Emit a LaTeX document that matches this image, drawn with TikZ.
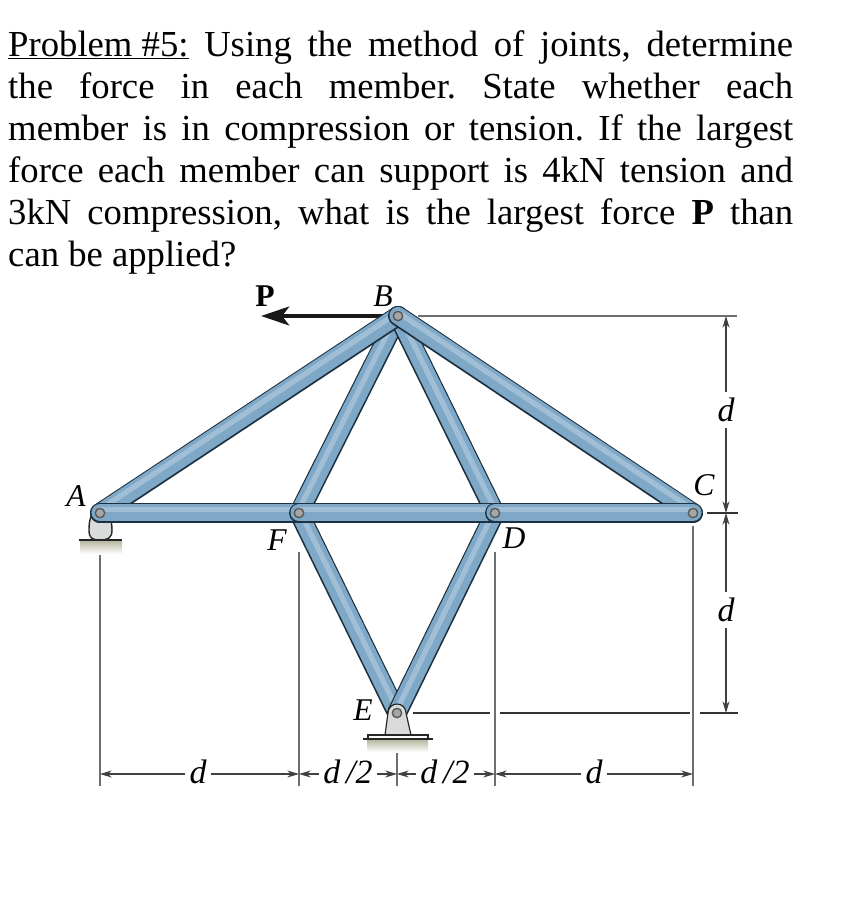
\documentclass[tikz,border=0pt]{standalone}
\usepackage{fontspec}
\setmainfont{Liberation Serif}
\usetikzlibrary{arrows.meta, calc, positioning}
\definecolor{barline}{HTML}{1B3040}
\definecolor{barblue}{HTML}{7FA8C7}
\definecolor{barlight}{HTML}{A0BFD7}
\definecolor{dimgray}{HTML}{6E6E6E}
\definecolor{plategray}{HTML}{DADBDB}
\definecolor{shadowgray}{HTML}{B9B8A0}
\tikzset{
    x = 0.03cm, y = -0.03cm,
    problem/.style = {anchor=north west, inner sep=0, text width=670pt, align=justify,
                      font=\fontsize{31.3}{35.85}\selectfont\frenchspacing},
    label/.style = {inner sep=0, font=\fontsize{27}{27}\selectfont\itshape},
    dimlabel/.style = {inner xsep=4pt, inner ysep=5pt, font=\fontsize{29}{29}\selectfont\itshape},
    dimline/.style = {draw=dimgray, line width=0.9pt},
    dimhalf/.style = {dimline, draw=black!75, -{Stealth[length=10pt,width=6pt]}},
    force/.style = {draw=black!90, line width=3.8pt, -{Stealth[length=24pt,width=16pt,inset=6pt]}},
    pin/.style = {circle, draw=black!65, fill=black!35, line width=1.2pt, minimum size=8pt, inner sep=0},
    plate/.style = {draw=black!85, line width=1.2pt, fill=plategray}
}
% one bar between two joints: outline, body and highlight
\newcommand{\member}[3]{
    \draw[barline, line width=#3pt, line cap=round] (#1) -- (#2);
    \draw[barblue, line width=#3pt-2.4pt, line cap=round, transform canvas={yshift=0.4pt}] (#1) -- (#2);
    \draw[barlight, line width=#3pt-12.5pt, line cap=round, transform canvas={yshift=3pt}] (#1) -- (#2);
}

\begin{document}
\begin{tikzpicture}
    \useasboundingbox (0,0) rectangle (850,901);

    \node[problem] (text) at (8,30) {\underline{Problem \#5:} Using the method of joints, determine\linebreak
        the force in each member. State whether each\linebreak
        member is in compression or tension. If the largest\linebreak
        force each member can support is 4kN tension and\linebreak
        3kN compression, what is the largest force \textbf{P} than\linebreak
        can be applied?};

    \coordinate (A) at (100,513);
    \coordinate (B) at (398,316);
    \coordinate (C) at (693,513);
    \coordinate (D) at (495,513);
    \coordinate (E) at (397,713);
    \coordinate (F) at (299,513);

    % dimension lines
    \coordinate (a1) at (100,553);
    \coordinate (a2) at (100,786);
    \coordinate (f1) at (299,552);
    \coordinate (f2) at (299,786);
    \coordinate (e1) at (397,746);
    \coordinate (e2) at (397,786);
    \coordinate (d1) at (495,552);
    \coordinate (d2) at (495,786);
    \coordinate (c1) at (693,526);
    \coordinate (c2) at (693,786);
    \draw[dimline] (a1) -- (a2);
    \draw[dimline] (f1) -- (f2);
    \draw[dimline] (e1) -- (e2);
    \draw[dimline] (d1) -- (d2);
    \draw[dimline] (c1) -- (c2);

    \coordinate (t1) at (418,316);
    \coordinate (t2) at (737,316);
    \coordinate (m1) at (707,513);
    \coordinate (m2) at (738,513);
    \coordinate (b1) at (413,713);
    \coordinate (b2) at (490,713);
    \coordinate (b3) at (500,713);
    \coordinate (b4) at (690,713);
    \coordinate (b5) at (700,713);
    \coordinate (b6) at (738,713);
    \draw[dimline] (t1) -- (t2);
    \draw[dimline, draw=black!80] (m1) -- (m2);
    \draw[dimline, draw=black!80] (b1) -- (b2);
    \draw[dimline, draw=black!80] (b3) -- (b4);
    \draw[dimline, draw=black!80] (b5) -- (b6);

    \node[dimlabel] (h1) at (198,772) {d};
    \node[dimlabel] (h2) at (348,772) {d\,/2};
    \node[dimlabel] (h3) at (445,772) {d\,/2};
    \node[dimlabel] (h4) at (594,772) {d};
    \coordinate (y1) at (100,774);
    \coordinate (y2) at (299,774);
    \coordinate (y3) at (397,774);
    \coordinate (y4) at (495,774);
    \coordinate (y5) at (693,774);
    \draw[dimhalf] (h1.west |- y1) -- (y1);
    \draw[dimhalf] (h1.east |- y1) -- (y2);
    \draw[dimhalf] (h2.west |- y1) -- (y2);
    \draw[dimhalf] (h2.east |- y1) -- (y3);
    \draw[dimhalf] (h3.west |- y1) -- (y3);
    \draw[dimhalf] (h3.east |- y1) -- (y4);
    \draw[dimhalf] (h4.west |- y1) -- (y4);
    \draw[dimhalf] (h4.east |- y1) -- (y5);

    \node[dimlabel] (v1) at (726,410) {d};
    \node[dimlabel] (v2) at (726,610) {d};
    \coordinate (z1) at (726,316);
    \coordinate (z2) at (726,513);
    \coordinate (z3) at (726,713);
    \draw[dimhalf] (v1.north) -- (z1);
    \draw[dimhalf] (v1.south) -- (z2);
    \draw[dimhalf] (v2.north) -- (z2);
    \draw[dimhalf] (v2.south) -- (z3);

    % supports
    \shade[top color=shadowgray, bottom color=white] (80,541) rectangle (122,554);
    \shade[top color=shadowgray, bottom color=white] (367,740) rectangle (428,752);
    \draw[plate] (89,530) .. controls (89,520) and (91,510) .. (100,510)
        .. controls (109,510) and (112,520) .. (112,530)
        .. controls (112,538) and (108,540) .. (100,540)
        .. controls (92,540) and (89,538) .. (89,530) -- cycle;
    \coordinate (s1) at (79,540);
    \coordinate (s2) at (122,540);
    \draw[black!85, line width=1.3pt] (s1) -- (s2);

    % bars
    \member{B}{F}{17}
    \member{B}{D}{17}
    \member{F}{E}{17}
    \member{D}{E}{17}
    \draw[force] (B) -- ++(-137,0) coordinate (tip);
    \member{A}{B}{17}
    \member{C}{B}{17}
    \member{A}{F}{17}
    \member{F}{D}{17}
    \member{D}{C}{17}

    \draw[plate, line width=1pt] (385,735) -- (388,713) arc (180:360:9) -- (411,735) -- cycle;
    \draw[plate, fill=white!90!plategray] (368,735) rectangle (428,739);
    \coordinate (s3) at (363,739);
    \coordinate (s4) at (433,739);
    \draw[black!85, line width=1.6pt] (s3) -- (s4);

    \node[pin] (pA) at (A) {};
    \node[pin] (pB) at (B) {};
    \node[pin] (pC) at (C) {};
    \node[pin] (pD) at (D) {};
    \node[pin] (pE) at (E) {};
    \node[pin] (pF) at (F) {};

    \node[label] (lA) at (76,496) {A};
    \node[label] (lB) at (383,296) {B};
    \node[label] (lC) at (704,485) {C};
    \node[label] (lD) at (514,538) {D};
    \node[label] (lE) at (363,710) {E};
    \node[label] (lF) at (277,540) {F};
    \node[label, font=\fontsize{27}{27}\selectfont\bfseries] (lP) at (265,296) {P};
\end{tikzpicture}
\end{document}
